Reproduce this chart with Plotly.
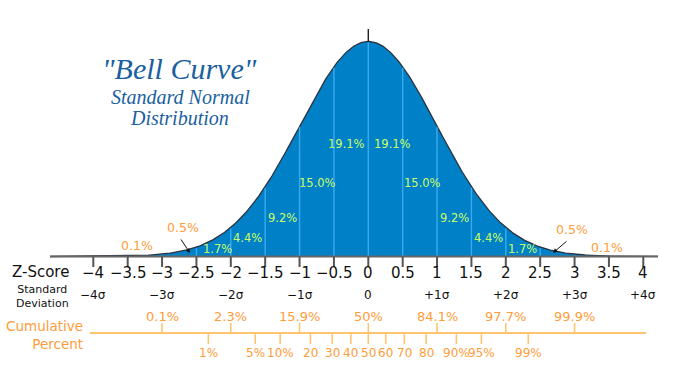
import math
import plotly.graph_objects as go

# ---------------- data ----------------
z_ticks = [-4, -3.5, -3, -2.5, -2, -1.5, -1, -0.5, 0, 0.5, 1, 1.5, 2, 2.5, 3, 3.5, 4]
z_tick_labels = ["−4", "−3.5", "−3", "−2.5", "−2", "−1.5", "−1", "−0.5", "0",
                 "0.5", "1", "1.5", "2", "2.5", "3", "3.5", "4"]
sigma_vals = [-4, -3, -2, -1, 0, 1, 2, 3, 4]
sigma_labels = ["−4σ", "−3σ", "−2σ", "−1σ", "0", "+1σ", "+2σ", "+3σ", "+4σ"]
cum_upper_z = [-3, -2, -1, 0, 1, 2, 3]
cum_upper_labels = ["0.1%", "2.3%", "15.9%", "50%", "84.1%", "97.7%", "99.9%"]
cum_lower_pct = [1, 5, 10, 20, 30, 40, 50, 60, 70, 80, 90, 95, 99]
cum_lower_labels = ["1%", "5%", "10%", "20", "30", "40", "50", "60", "70", "80", "90%", "95%", "99%"]
band_lines_z = [-3, -2.5, -2, -1.5, -1, -0.5, 0, 0.5, 1, 1.5, 2, 2.5, 3]
band_label_z = [-2.2, -1.76, -1.25, -0.74, -0.31, 0.35, 0.79, 1.25, 1.75, 2.24]
band_labels = ["1.7%", "4.4%", "9.2%", "15.0%", "19.1%", "19.1%", "15.0%", "9.2%", "4.4%", "1.7%"]
tail_labels = ["0.1%", "0.5%", "0.5%", "0.1%"]
tail_label_z = [-3.36, -2.7, 2.96, 3.47]

# ---------------- helpers ----------------
def pdf(z):
    return math.exp(-z * z / 2) / math.sqrt(2 * math.pi)

def cdf(z):
    return 0.5 * (1 + math.erf(z / math.sqrt(2)))

def ppf(p):
    lo, hi = -10.0, 10.0
    for _ in range(100):
        mid = (lo + hi) / 2
        if cdf(mid) < p:
            lo = mid
        else:
            hi = mid
    return (lo + hi) / 2

BASE_PX = 256.5
PX_PER_Y = 539.0
def Y(py):  # screen pixel row -> data y
    return (BASE_PX - py) / PX_PER_Y

XPX = 68.75
X0PX = 368.3
def X(px):
    return (px - X0PX) / XPX

BLUE = "#0080c6"
LIGHTBLUE = "#3aaaf0"
GREEN = "#ccff66"
ORANGE = "#ff9c3a"
LORANGE = "#ffc470"
TITLE = "#1a5fa0"

fig = go.Figure()

# curve
n = 600
xs = [X(50) + (X(658) - X(50)) * i / n for i in range(n + 1)]
ys = [pdf(x) for x in xs]
fig.add_trace(go.Scatter(x=xs, y=ys, mode="lines", fill="tozeroy",
                         fillcolor=BLUE, line=dict(color="#2b3440", width=1.3),
                         hoverinfo="skip"))

# band separator lines
bx, by = [], []
for z in band_lines_z:
    bx += [z, z, None]
    by += [0, pdf(z) - 0.002, None]
fig.add_trace(go.Scatter(x=bx, y=by, mode="lines", line=dict(color=LIGHTBLUE, width=1.4),
                         hoverinfo="skip"))

# black line above peak
fig.add_trace(go.Scatter(x=[0, 0], y=[pdf(0), Y(29)], mode="lines",
                         line=dict(color="#222", width=1.4), hoverinfo="skip"))

# baseline
fig.add_trace(go.Scatter(x=[X(50), X(658)], y=[0, 0], mode="lines",
                         line=dict(color="#666", width=2), hoverinfo="skip"))

# z ticks
tx, ty = [], []
for z in z_ticks:
    tx += [z, z, None]
    ty += [0, Y(267), None]
fig.add_trace(go.Scatter(x=tx, y=ty, mode="lines", line=dict(color="#555", width=2),
                         hoverinfo="skip"))

# cumulative line
fig.add_trace(go.Scatter(x=[X(90), X(646)], y=[Y(333), Y(333)], mode="lines",
                         line=dict(color=LORANGE, width=2), hoverinfo="skip"))
ux, uy = [], []
for z in cum_upper_z:
    ux += [z, z, None]
    uy += [Y(333), Y(323), None]
for p in cum_lower_pct:
    z = ppf(p / 100)
    ux += [z, z, None]
    uy += [Y(333), Y(344), None]
fig.add_trace(go.Scatter(x=ux, y=uy, mode="lines", line=dict(color=LORANGE, width=1.6),
                         hoverinfo="skip"))

ann = []
def txt(x, y, s, size, color, family="DejaVu Sans", xanchor="center"):
    ann.append(dict(x=x, y=y, text=s, showarrow=False, xanchor=xanchor, yanchor="middle",
                    font=dict(size=size, color=color, family=family)))

for z, s in zip(z_ticks, z_tick_labels):
    txt(z, Y(273), s, 15, "#111")
for z, s in zip(sigma_vals, sigma_labels):
    txt(z, Y(295), s, 12, "#111")
for z, s in zip(cum_upper_z, cum_upper_labels):
    txt(z, Y(316), s, 13, ORANGE)
for p, s in zip(cum_lower_pct, cum_lower_labels):
    txt(ppf(p / 100), Y(353), s, 12, ORANGE)

txt(X(40), Y(272), "Z-Score", 15, "#111")
txt(X(42), Y(296), "Standard<br>Deviation", 11, "#111")
txt(X(85), Y(334.5), "Cumulative<br>Percent", 13.5, ORANGE, xanchor="right")
ann[-1]["align"] = "right"

band_py = [249, 238, 218, 183, 144, 144, 183, 218, 238, 249]
for z, s, py in zip(band_label_z, band_labels, band_py):
    txt(z, Y(py), s, 11.5, GREEN)

tail_py = [245, 227, 229, 247]
for z, s, py in zip(tail_label_z, tail_labels, tail_py):
    txt(z, Y(py), s, 12.5, ORANGE)

# arrows
for (hx, hy, tx0, ty0) in [(190, 253, 180, 238), (553, 253, 568, 240)]:
    ann.append(dict(x=X(hx), y=Y(hy), ax=X(tx0), ay=Y(ty0), axref="x", ayref="y",
                    xref="x", yref="y", text="", showarrow=True, arrowhead=2,
                    arrowsize=0.9, arrowwidth=1, arrowcolor="#111", standoff=0))

# title
txt(X(179), Y(68), "<i>\"Bell Curve\"</i>", 30, TITLE, family="Liberation Serif")
txt(X(180), Y(97), "<i>Standard Normal</i>", 20, TITLE, family="Liberation Serif")
txt(X(179), Y(118), "<i>Distribution</i>", 20, TITLE, family="Liberation Serif")

fig.update_layout(
    width=692, height=378, margin=dict(l=0, r=0, t=0, b=0),
    paper_bgcolor="white", plot_bgcolor="white", showlegend=False,
    xaxis=dict(range=[X(0), X(692)], visible=False, fixedrange=True),
    yaxis=dict(range=[Y(378), Y(0)], visible=False, fixedrange=True),
    annotations=ann, hovermode=False,
)
fig.write_html("out.html", config={"displayModeBar": False, "staticPlot": True},
               post_script="document.body.style.margin='0';document.body.style.overflow='hidden';")
